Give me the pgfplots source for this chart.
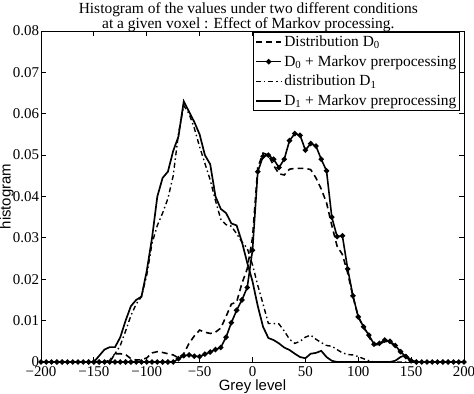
\documentclass[border=0pt]{standalone}
\usepackage{fontspec}
\setmainfont{Liberation Serif}
\setsansfont{Liberation Sans}
\usepackage{pgfplots}
\usepackage{pgfplotstable}
\pgfplotsset{compat=1.18}
\pgfplotstableread{
x d0 d0m d1 d1m
-200 0 0 0 0
-195 0 0 0 0
-190 0 0 0 0
-185 0 0 0 0
-180 0 0 0 0
-175 0 0 0 0
-170 0 0 0 0
-165 0 0 0 0
-160 0 0 0 0
-155 0 0 0 0
-150 0 0 0 0
-145 0 0 0 0.0015
-140 0 0 0 0.0030
-135 0 0 0.0005 0.0036
-130 0.0020 0 0.0020 0.0036
-125 0.0020 0 0.0040 0.0060
-120 0.0018 0 0.0075 0.0100
-115 0.0008 0 0.0112 0.0135
-110 0.0005 0 0.0140 0.0150
-105 0.0005 0 0.0158 0.0158
-100 0.0010 0 0.0210 0.0220
-95 0.0022 0 0.0287 0.0300
-90 0.0025 0 0.0330 0.0400
-85 0.0023 0 0.0360 0.0445
-80 0.0020 0 0.0395 0.0460
-75 0.0017 0 0.0450 0.0510
-70 0.0010 0.0008 0.0552 0.0545
-65 0.0020 0.0015 0.0620 0.0630
-60 0.0045 0.0017 0.0600 0.0605
-55 0.0063 0.0014 0.0565 0.0580
-50 0.0077 0.0013 0.0520 0.0550
-45 0.0072 0.0019 0.0480 0.0500
-40 0.0069 0.0024 0.0440 0.0478
-35 0.0072 0.0030 0.0390 0.0400
-30 0.0082 0.0035 0.0345 0.0370
-25 0.0110 0.0060 0.0332 0.0360
-20 0.0140 0.0095 0.0328 0.0335
-15 0.0145 0.0125 0.0310 0.0330
-10 0.0190 0.0150 0.0290 0.0290
-5 0.0225 0.0180 0.0275 0.0240
0 0.0300 0.0270 0.0235 0.0195
5 0.0470 0.0460 0.0185 0.0135
10 0.0505 0.0497 0.0140 0.0085
15 0.0500 0.0500 0.0093 0.0058
20 0.0475 0.0490 0.0093 0.0053
25 0.0455 0.0470 0.0092 0.0045
30 0.0452 0.0490 0.0075 0.0035
35 0.0466 0.0535 0.0055 0.0029
40 0.0468 0.0552 0.0045 0.0020
45 0.0468 0.0548 0.0050 0.0012
50 0.0468 0.0512 0.0060 0.0009
55 0.0465 0.0528 0.0065 0.0020
60 0.0445 0.0522 0.0055 0.0022
65 0.0418 0.0490 0.0047 0.0027
70 0.0385 0.0462 0.0040 0.0012
75 0.0330 0.0350 0.0038 0.0003
80 0.0280 0.0303 0.0030 0
85 0.0260 0.0305 0.0022 0
90 0.0215 0.0225 0.0018 0
95 0.0158 0.0160 0.0017 0
100 0.0109 0.0109 0.0013 0
105 0.0085 0.0085 0.0008 0
110 0.0061 0.0065 0.0003 0
115 0.0041 0.0043 0 0
120 0.0043 0.0045 0 0
125 0.0050 0.0053 0 0
130 0.0048 0.0050 0 0
135 0.0038 0.0040 0 0.0003
140 0.0024 0.0025 0 0.0012
145 0.0012 0.0013 0 0.0017
150 0.0003 0.0003 0 0.0003
155 0 0 0 0
160 0 0 0 0
165 0 0 0 0
170 0 0 0 0
175 0 0 0 0
180 0 0 0 0
185 0 0 0 0
190 0 0 0 0
195 0 0 0 0
200 0 0 0 0
}\datatable
\begin{document}
\begin{tikzpicture}
\begin{axis}[
  scale only axis,
  width=423bp, height=331bp,
  xmin=-200, xmax=200, ymin=0, ymax=0.08,
  scaled y ticks=false, scaled x ticks=false,
  xtick={-200,-150,...,200},
  xticklabels={−200,−150,−100,−50,0,50,100,150,200},
  ytick={0,0.01,...,0.08},
  yticklabels={0,0.01,0.02,0.03,0.04,0.05,0.06,0.07,0.08},
  tick align=inside,
  major tick length=5bp,
  tick style={black, line width=0.8pt},
  axis line style={line width=0.9pt},
  tick label style={font=\fontsize{15}{16}\selectfont},
  xticklabel style={yshift=-1bp},
  yticklabel style={xshift=1.5bp},
  xlabel={Grey level},
  xlabel style={font=\sffamily\fontsize{15}{17}\selectfont, at={(axis description cs:0.5,0)}, anchor=base, yshift=-28.5bp, inner sep=0pt},
  ylabel={histogram},
  ylabel style={font=\sffamily\fontsize{15}{17}\selectfont, at={(axis description cs:-0.064,0.5)}, anchor=south, inner sep=0pt},
  title={Histogram of the values under two different conditions\\at a given voxel : Effect of Markov processing.},
  title style={font=\fontsize{15.5}{15}\selectfont, align=center, at={(axis description cs:0.49,1)}, anchor=south, inner sep=0pt, yshift=-7bp},
  legend style={at={(axis description cs:0.991,0.997)}, anchor=north east, draw=black, line width=0.8pt,
    font=\fontsize{15.5}{16}\selectfont, row sep=3.5pt, inner sep=1.5pt, fill=white},
  legend cell align=left,
  legend image code/.code={\draw[mark repeat=2,mark phase=2,#1] plot coordinates {(0cm,0cm) (0.45cm,0cm) (0.9cm,0cm)};},
]
\addplot[black, line width=1.6pt, dash pattern=on 6pt off 4pt] table[x=x,y=d0]{\datatable};
\addlegendentry{Distribution D\textsubscript{0}}
\addplot[black, line width=1.6pt, mark=*, mark size=1.8pt] table[x=x,y=d0m]{\datatable};
\addlegendentry{D\textsubscript{0} + Markov prerpocessing}
\addplot[black, line width=1.4pt, dash pattern=on 5pt off 3pt on 1.5pt off 3pt] table[x=x,y=d1]{\datatable};
\addlegendentry{distribution D\textsubscript{1}}
\addplot[black, line width=1.7pt] table[x=x,y=d1m]{\datatable};
\addlegendentry{D\textsubscript{1} + Markov preprocessing}
\end{axis}
\pgfresetboundingbox
\path[use as bounding box] ([shift={(-41bp,-32bp)}]current axis.south west) rectangle ([shift={(10bp,31bp)}]current axis.north east);
\end{tikzpicture}
\end{document}
